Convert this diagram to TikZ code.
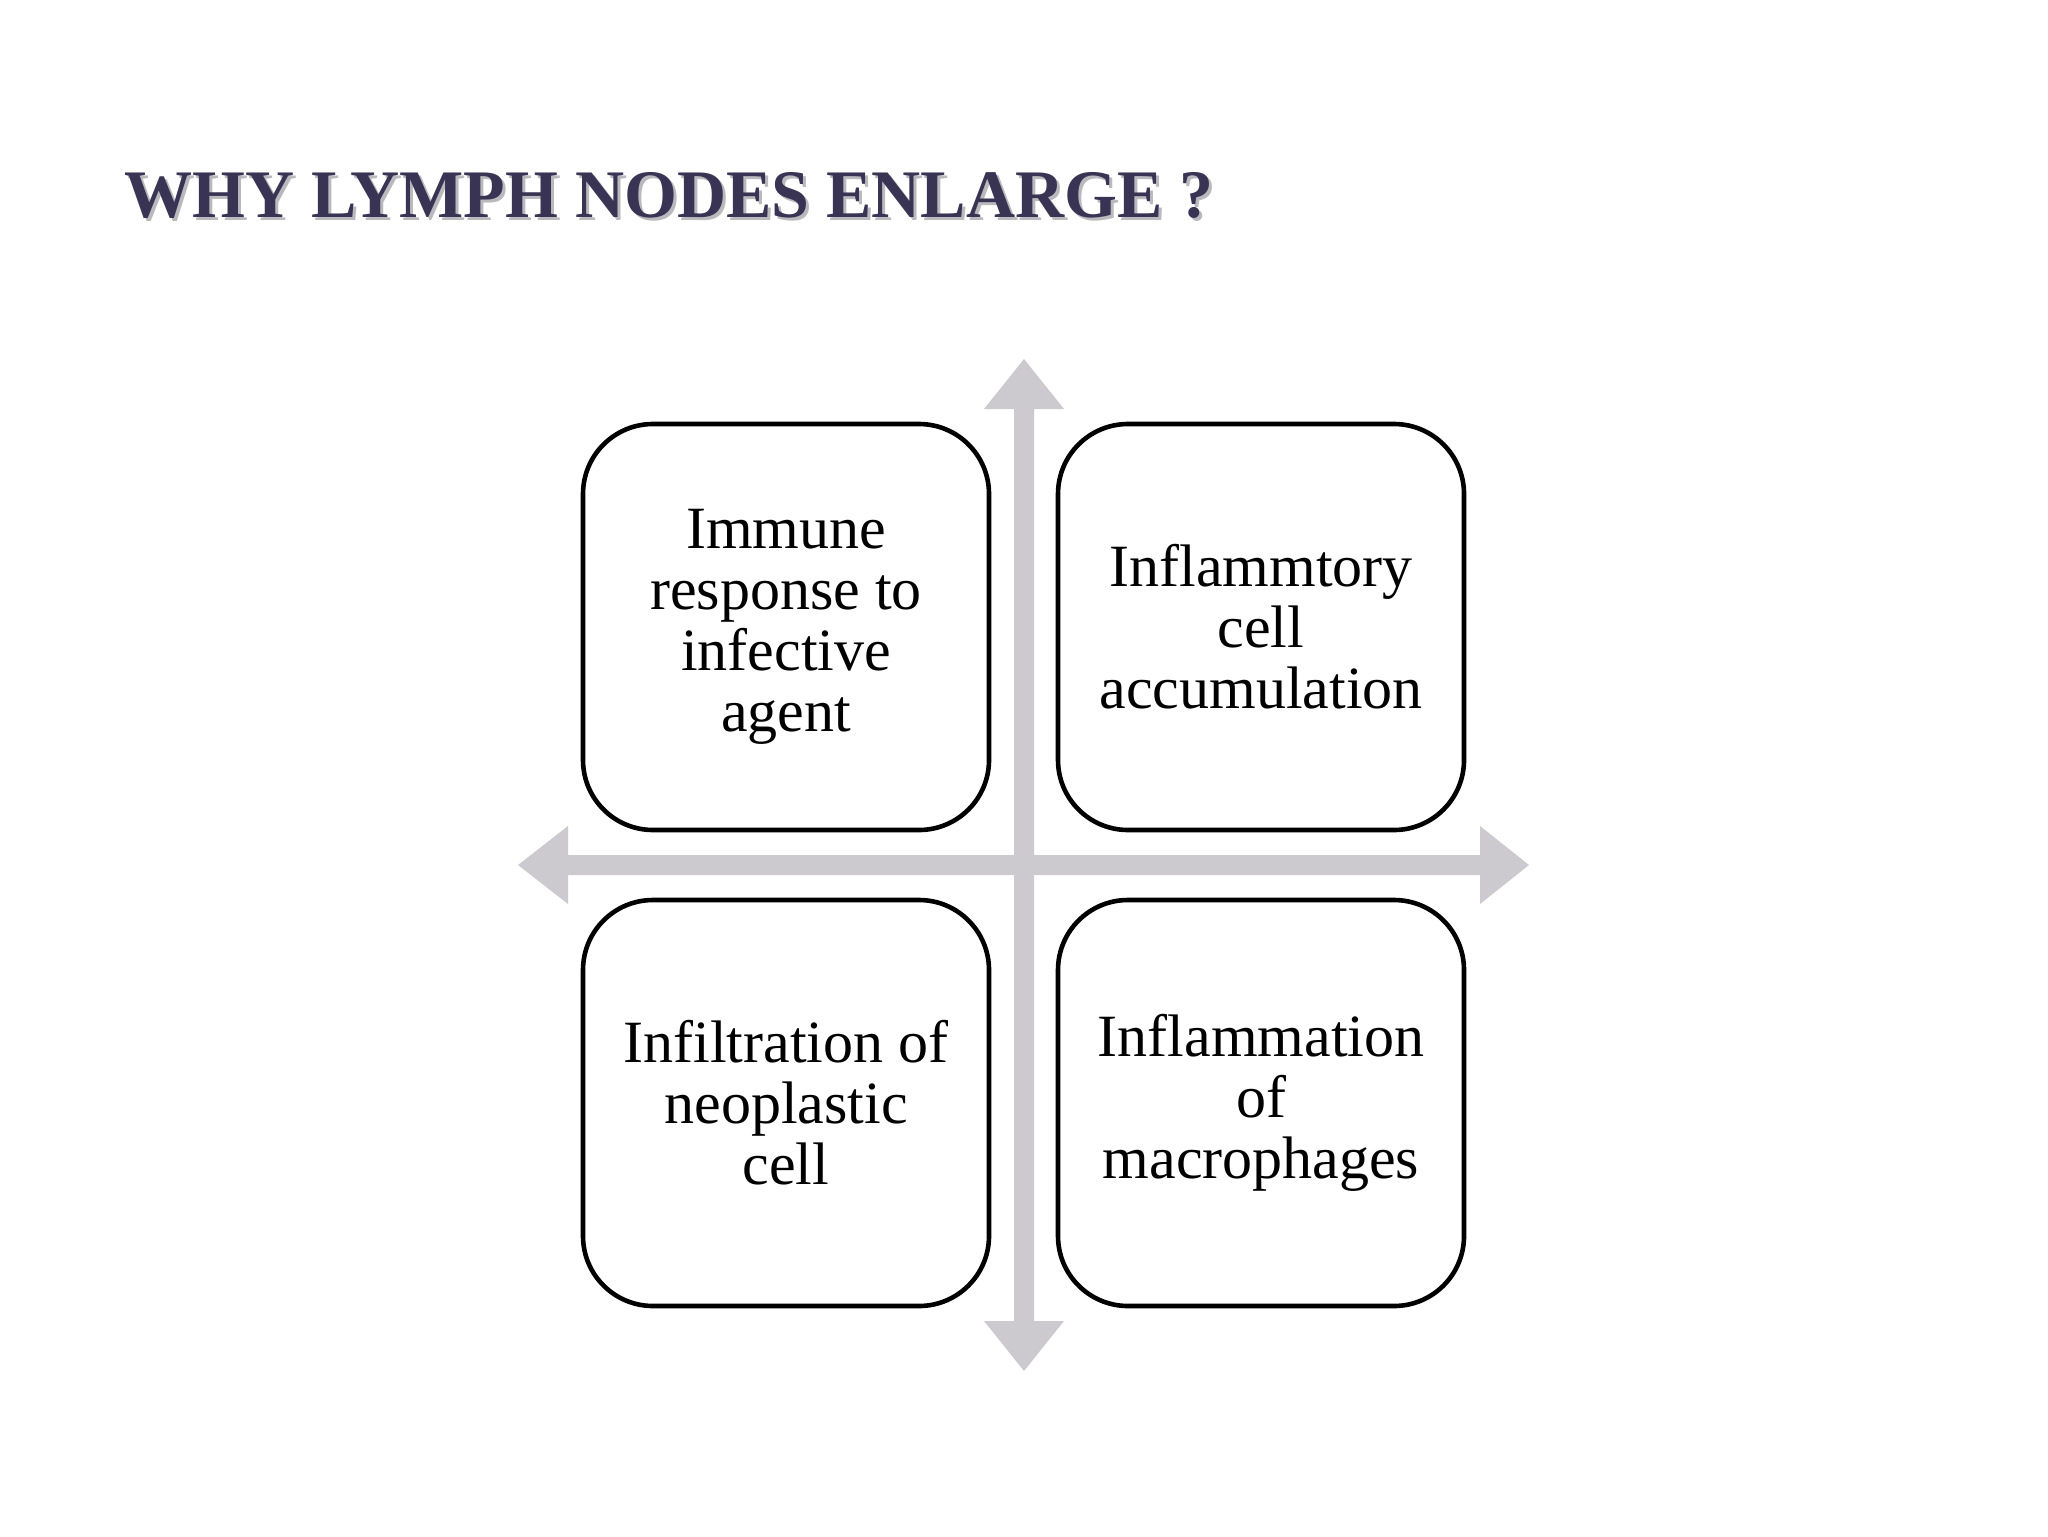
\documentclass[tikz,border=0pt]{standalone}
\usepackage{fontspec}
\setmainfont{Liberation Serif}
\definecolor{titlecol}{RGB}{58,52,84}
\definecolor{shadowcol}{RGB}{185,185,190}
\definecolor{axiscol}{RGB}{204,202,207}
\tikzset{
  quad/.style={draw=black, line width=2.3pt, fill=white, rounded corners=35pt,
    minimum width=203pt, minimum height=203pt, align=flush center, text width=180pt,
    font=\fontsize{30pt}{30.5pt}\selectfont, inner sep=0pt},
  axis/.style={fill=axiscol, draw=none},
  titletext/.style={anchor=base west, inner sep=0pt, font=\fontsize{34pt}{36pt}\selectfont\bfseries}
}
\begin{document}
\begin{tikzpicture}[x=0.5pt,y=-0.5pt]
\useasboundingbox (0,0) rectangle (2048,1536);
\fill[white] (0,0) rectangle (2048,1536);
% title
\node[titletext, text=shadowcol] (titleshadow) at (127,220) {WHY LYMPH NODES ENLARGE ?};
\node[titletext, text=titlecol] (title) at (124,217) {WHY LYMPH NODES ENLARGE ?};
% axes
\coordinate (vtop) at (1024,359);
\coordinate (vbot) at (1024,1371);
\coordinate (hleft) at (518,865);
\coordinate (hright) at (1529,865);
\fill[axis] (vtop) -- ++(40,50) -- ++(-30,0) -- (1034,1321) -- ++(30,0) -- (vbot)
  -- ++(-40,-50) -- ++(30,0) -- (1014,409) -- ++(-30,0) -- cycle;
\fill[axis] (hleft) -- ++(50,-39) -- ++(0,29) -- (1480,855) -- ++(0,-29) -- (hright)
  -- ++(-49,39) -- ++(0,-29) -- (568,875) -- ++(0,29) -- cycle;
% boxes
\node[quad] (tl) at (786,627) {Immune\\response to\\infective\\agent};
\node[quad] (tr) at (1261,627) {Inflammtory\\cell\\accumulation};
\node[quad] (bl) at (786,1103) {Infiltration of\\neoplastic\\cell};
\node[quad] (br) at (1261,1103) {Inflammation\\of\\macrophages};
\end{tikzpicture}
\end{document}
